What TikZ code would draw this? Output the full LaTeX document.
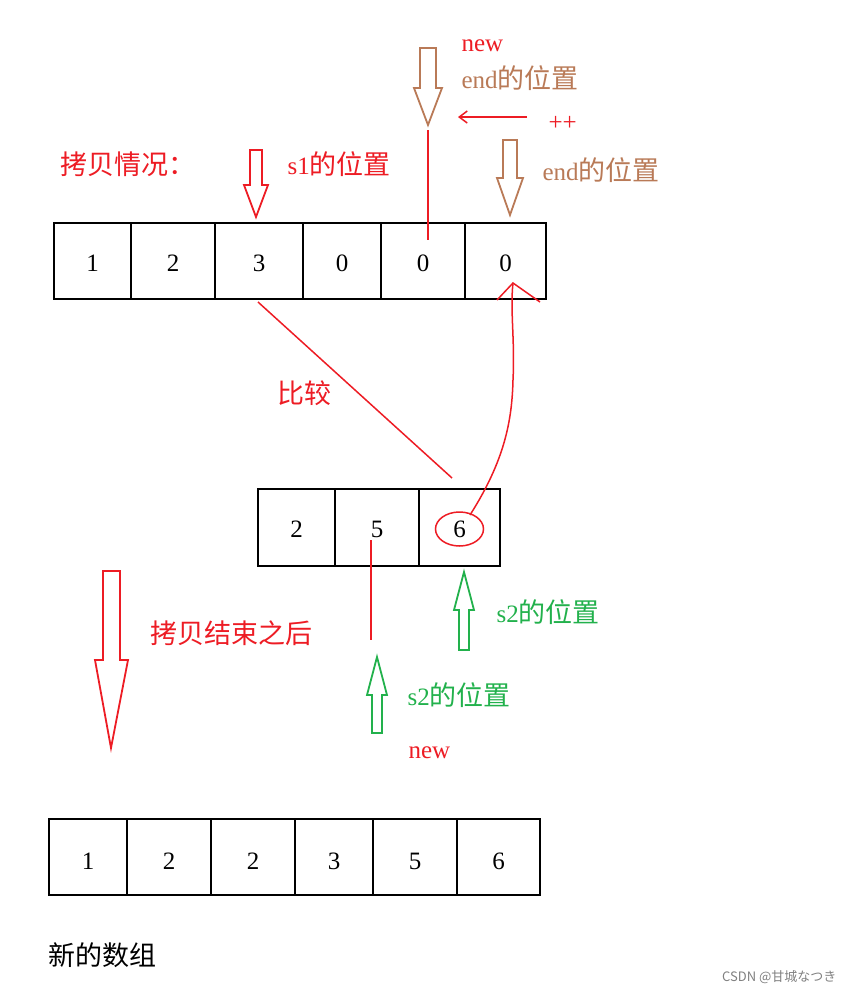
\documentclass[tikz,border=0pt]{standalone}
\usepackage{fontspec}
\setmainfont{Liberation Serif}
\newfontfamily\cjk{Noto Sans CJK SC}
\usetikzlibrary{arrows.meta}
\definecolor{pred}{RGB}{237,28,36}
\definecolor{pbrown}{RGB}{185,122,87}
\definecolor{pgreen}{RGB}{34,177,76}
\newcommand\cj[1]{{\cjk\fontsize{27}{27}\selectfont #1}}
\begin{document}
\begin{tikzpicture}[x=1pt,y=-1pt,
 cell/.style={draw,line width=2.2pt},
 num/.style={font=\fontsize{25}{25}\selectfont},
 lab/.style={anchor=west,font=\fontsize{25}{25}\selectfont},
 ln/.style={pred,line width=1.5pt}]
\useasboundingbox (0,0) rectangle (852,994);
\foreach \a/\b/\t [count=\i] in {54/131/1,131/215/2,215/303/3,303/381/0,381/465/0,465/546/0}
 {\draw[cell] (\a,223) rectangle (\b,299); \node[num] (t\i) at ({(\a+\b)/2},263) {\t};}
\foreach \a/\b/\t [count=\i] in {258/335/2,335/419/5,419/500/6}
 {\draw[cell] (\a,489) rectangle (\b,566); \node[num] (m\i) at ({(\a+\b)/2},529) {\t};}
\foreach \a/\b/\t [count=\i] in {49/127/1,127/211/2,211/295/2,295/373/3,373/457/5,457/540/6}
 {\draw[cell] (\a,819) rectangle (\b,895); \node[num] (b\i) at ({(\a+\b)/2},861) {\t};}
\draw[pbrown,line width=1.8pt] (420,48)--(436,48)--(436,88)--(442,88)--(428,125)--(414,88)--(420,88)--cycle;
\draw[pred,line width=1.8pt] (250,150)--(262,150)--(262,185)--(268,185)--(256,217)--(244,185)--(250,185)--cycle;
\draw[pbrown,line width=1.8pt] (503,140)--(517,140)--(517,178)--(523,178)--(510,215)--(497,178)--(503,178)--cycle;
\draw[pred,line width=1.8pt] (103,571)--(120,571)--(120,660)--(128,660)--(111,748)--(95,660)--(103,660)--cycle;
\draw[pgreen,line width=1.8pt] (459,650)--(469,650)--(469,610)--(474,610)--(464,572)--(454,610)--(459,610)--cycle;
\draw[pgreen,line width=1.8pt] (372,733)--(382,733)--(382,695)--(387,695)--(377,657)--(367,695)--(372,695)--cycle;
\coordinate (n1) at (428,130); \coordinate (n2) at (428,240);
\draw[ln] (n1)--(n2);
\coordinate (p1) at (527,117); \coordinate (p2) at (458,117);
\draw[ln,-{Straight Barb[length=8pt,width=12pt]}] (p1)--(p2);
\coordinate (c1) at (258,302); \coordinate (c2) at (452,478);
\draw[ln] (c1)--(c2);
\coordinate (e1) at (470,515); \coordinate (e2) at (513,283);
\draw[ln] (e1) .. controls (505,460) and (512,420) .. (513,380) .. controls (515,340) and (510,310) .. (e2);
\draw[ln] (497,300)--(e2)--(540,302);
\draw[ln] (m3) ellipse (24 and 17);
\coordinate (f1) at (371,540); \coordinate (f2) at (371,640);
\draw[ln] (f1)--(f2);
\node[lab,pred] at (458,46) {new};
\node[lab,pbrown] at (458,78) {end\cj{的位置}};
\node[lab,pred] at (545,123) {++};
\node[lab,pred] at (57,164) {\cj{拷贝情况：}};
\node[lab,pred] at (284,164) {s1\cj{的位置}};
\node[lab,pbrown] at (539,170) {end\cj{的位置}};
\node[lab,pred] at (274,393) {\cj{比较}};
\node[lab,pgreen] at (493,612) {s2\cj{的位置}};
\node[lab,pred] at (147,633) {\cj{拷贝结束之后}};
\node[lab,pgreen] at (404,695) {s2\cj{的位置}};
\node[lab,pred] at (405,753) {new};
\node[lab] at (45,955) {\cj{新的数组}};
\node[anchor=east,gray,font=\cjk\fontsize{13}{13}\selectfont] at (840,977) {CSDN @甘城なつき};
\end{tikzpicture}
\end{document}
